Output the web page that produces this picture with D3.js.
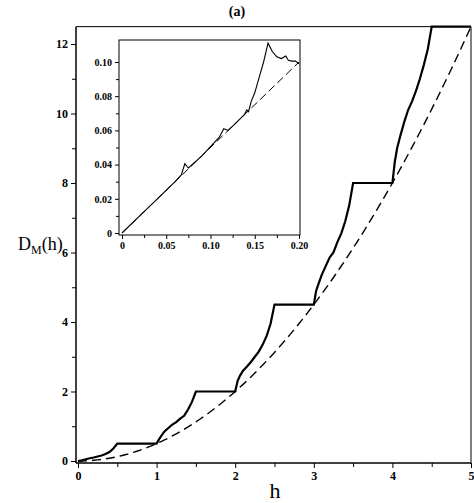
<!DOCTYPE html><html><head><meta charset="utf-8"><script src="https://cdn.jsdelivr.net/npm/d3@7"></script>
<style>body{margin:0;background:#fff}svg text{font-family:"Liberation Serif","DejaVu Serif",serif !important;font-weight:bold}</style></head><body>
<script>
const mainX=[0,0.05,0.1,0.15,0.2,0.25,0.3,0.35,0.4,0.45,0.5,1,1.03,1.06,1.1,1.15,1.2,1.25,1.3,1.35,1.4,1.45,1.5,2,2.03,2.06,2.1,2.15,2.2,2.25,2.3,2.35,2.4,2.45,2.5,3,3.03,3.06,3.1,3.15,3.2,3.25,3.3,3.35,3.4,3.45,3.5,4,4.03,4.06,4.1,4.15,4.2,4.25,4.3,4.35,4.4,4.45,4.5,5];
const mainY=[0,0.02,0.05,0.08,0.1,0.13,0.16,0.2,0.26,0.36,0.5,0.5,0.62,0.72,0.85,0.95,1.05,1.12,1.22,1.3,1.48,1.7,2,2,2.3,2.45,2.6,2.72,2.85,3.0,3.15,3.35,3.6,3.95,4.5,4.5,4.9,5.1,5.35,5.6,5.85,6.0,6.3,6.55,6.9,7.35,8,8,8.6,9.0,9.35,9.75,10.1,10.35,10.65,11.0,11.4,11.85,12.5,12.5];
const insetX=[0,0.02,0.04,0.06,0.067,0.071,0.075,0.09,0.11,0.115,0.12,0.13,0.138,0.141,0.143,0.146,0.15,0.155,0.16,0.165,0.17,0.175,0.18,0.185,0.188,0.192,0.196,0.2];
const insetY=[0,0.01,0.02,0.03,0.034,0.0405,0.038,0.045,0.056,0.061,0.06,0.065,0.069,0.072,0.071,0.077,0.082,0.091,0.1,0.111,0.106,0.103,0.102,0.1035,0.101,0.1005,0.1005,0.099];
const xTicks=[0,1,2,3,4,5], yTicks=[0,2,4,6,8,10,12];
const ixTicks=[0,0.05,0.10,0.15,0.20], iyTicks=[0,0.02,0.04,0.06,0.08,0.10];

const svg=d3.select("body").append("svg").attr("width",474).attr("height",503);
const x=d3.scaleLinear().domain([0,5]).range([78,471]);
const y=d3.scaleLinear().domain([0,12]).range([461,44]);
svg.append("path").attr("d",`M76,${y(12.5)}H471V463`).attr("fill","none").attr("stroke","#000").attr("stroke-width",1);
svg.append("g").attr("transform","translate(0,463)").call(d3.axisBottom(x).tickValues(xTicks).tickFormat(d3.format("d")).tickSize(5)).call(g=>{g.select(".domain").attr("d","M76,0H471");});
svg.append("g").attr("transform","translate(0,463)").call(d3.axisBottom(x).tickValues(d3.range(0.5,5,1)).tickFormat("").tickSize(4)).select(".domain").remove();
svg.append("g").attr("transform","translate(76,0)").call(d3.axisLeft(y).tickValues(yTicks).tickFormat(d3.format("d")).tickSize(5)).call(g=>g.select(".domain").attr("d",`M0,463V${y(12.5)}`));
svg.append("g").attr("transform","translate(76,0)").call(d3.axisLeft(y).tickValues(d3.range(1,13,2)).tickFormat("").tickSize(4)).select(".domain").remove();
svg.selectAll(".tick text").attr("font-size",12);
svg.selectAll(".domain").attr("stroke-width",1.5);
const dash=d3.range(0,5.001,0.05);
svg.append("path").attr("d",d3.line().x(d=>x(d)).y(d=>y(d*d/2))(dash)).attr("fill","none").attr("stroke","#000").attr("stroke-width",1.4).attr("stroke-dasharray","9,5");
svg.append("path").attr("d",d3.line().x((d,i)=>x(d)).y((d,i)=>y(mainY[i]))(mainX)).attr("fill","none").attr("stroke","#000").attr("stroke-width",2.2);
svg.append("text").attr("x",237).attr("y",16).attr("text-anchor","middle").attr("font-size",14).text("(a)");
svg.append("text").attr("x",275).attr("y",498).attr("text-anchor","middle").attr("font-size",22).style("font-weight","normal").text("h");
const yl=svg.append("text").attr("x",18).attr("y",250).attr("font-size",18).style("font-weight","normal");
yl.append("tspan").text("D");yl.append("tspan").attr("font-size",12).attr("dy",4).text("M");yl.append("tspan").attr("dy",-4).text("(h)");
const ix=d3.scaleLinear().domain([0,0.2]).range([122,299]);
const iy=d3.scaleLinear().domain([0,0.1]).range([233,62]);
const ig=svg.append("g");
ig.append("rect").attr("x",119).attr("y",40).attr("width",181).attr("height",195).attr("fill","#fff").attr("stroke","#000");
ig.append("g").attr("transform","translate(0,235)").call(d3.axisBottom(ix).tickValues(ixTicks).tickFormat((d,i)=>i?d3.format(".2f")(d):"0").tickSize(4)).select(".domain").remove();
ig.append("g").attr("transform","translate(0,235)").call(d3.axisBottom(ix).tickValues(d3.range(0.025,0.2,0.05)).tickFormat("").tickSize(3)).select(".domain").remove();
ig.append("g").attr("transform","translate(119,0)").call(d3.axisLeft(iy).tickValues(iyTicks).tickFormat((d,i)=>i?d3.format(".2f")(d):"0").tickSize(4)).select(".domain").remove();
ig.append("g").attr("transform","translate(119,0)").call(d3.axisLeft(iy).tickValues(d3.range(0.01,0.11,0.02)).tickFormat("").tickSize(3)).select(".domain").remove();
ig.selectAll(".tick text").attr("font-size",10);
ig.append("path").attr("d",d3.line().x(d=>ix(d)).y(d=>iy(d/2))([0,0.2])).attr("fill","none").attr("stroke","#000").attr("stroke-width",1).attr("stroke-dasharray","8,4");
ig.append("path").attr("d",d3.line().x(d=>ix(d)).y((d,i)=>iy(insetY[i]))(insetX)).attr("fill","none").attr("stroke","#000").attr("stroke-width",1.1);
</script></body></html>
